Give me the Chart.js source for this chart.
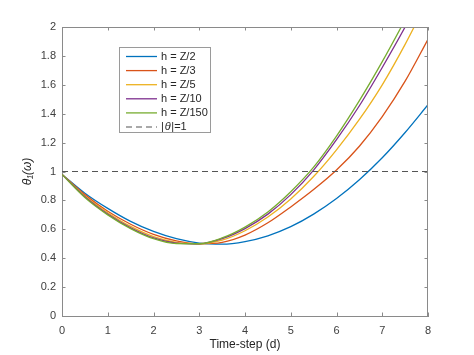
<!DOCTYPE html>
<html><head><meta charset="utf-8">
<script src="https://cdn.jsdelivr.net/npm/chart.js@4/dist/chart.umd.min.js"></script>
<style>html,body{margin:0;padding:0;background:#fff}#wrap{width:474px;height:355px;position:relative}</style>
</head><body><div id="wrap"><canvas id="c" width="474" height="355"></canvas></div>
<script>
// ---- data ----
const steps = [0,0.5,1,1.5,2,2.5,3,3.5,4,4.5,5,5.5,6,6.5,7,7.5,8];
const seriesLabels = ['h = Z/2','h = Z/3','h = Z/5','h = Z/10','h = Z/150'];
const thetaZ2   = [0.98,0.85,0.745,0.655,0.585,0.535,0.505,0.497,0.515,0.555,0.618,0.705,0.813,0.943,1.095,1.27,1.462];
const thetaZ3   = [0.98,0.84,0.725,0.635,0.565,0.52,0.50,0.51,0.56,0.645,0.755,0.875,1.01,1.175,1.38,1.625,1.915];
const thetaZ5   = [0.98,0.83,0.715,0.62,0.55,0.51,0.50,0.525,0.59,0.685,0.81,0.965,1.15,1.36,1.60,1.88,2.19];
const thetaZ10  = [0.98,0.825,0.705,0.61,0.54,0.505,0.50,0.535,0.605,0.705,0.84,1.01,1.22,1.455,1.72,2.0,2.3];
const thetaZ150 = [0.98,0.82,0.70,0.605,0.535,0.501,0.50,0.54,0.615,0.72,0.86,1.03,1.245,1.49,1.76,2.05,2.35];
const refX = [0,8];
const refY = [1,1];
const refLabel = '|θ|=1';
const xTicks = [0,1,2,3,4,5,6,7,8];
const yTicks = [0,0.2,0.4,0.6,0.8,1,1.2,1.4,1.6,1.8,2];
const yTickLabels = ['0','0.2','0.4','0.6','0.8','1','1.2','1.4','1.6','1.8','2'];
const xTitle = 'Time-step (d)';
const yTitle = 'θ₁(ω)';

// ---- styles ----
const colors = ['#0072BD','#D95319','#EDB120','#7E2F8E','#77AC30'];
const FONT = "'Liberation Sans', Arial, Helvetica, sans-serif";
const AXIS = '#8a8a8a';
const TEXT = '#404040';

const series = [thetaZ2, thetaZ3, thetaZ5, thetaZ10, thetaZ150];
const datasets = series.map((vals, i) => ({
  label: seriesLabels[i],
  data: steps.map((x, k) => ({x, y: vals[k]})),
  borderColor: colors[i],
  backgroundColor: colors[i],
  borderWidth: 1.3,
  pointRadius: 0,
  showLine: true,
  fill: false,
  cubicInterpolationMode: 'monotone',
  order: 10 - i
}));
datasets.push({
  label: refLabel,
  data: refX.map((x, k) => ({x, y: refY[k]})),
  borderColor: '#555555',
  borderWidth: 1.1,
  borderDash: [6, 4],
  pointRadius: 0,
  showLine: true,
  fill: false,
  order: 0
});

const framePlugin = {
  id: 'frame',
  afterDraw(chart) {
    const {ctx, chartArea: a, scales} = chart;
    ctx.save();
    ctx.strokeStyle = AXIS;
    ctx.lineWidth = 1;
    ctx.beginPath();
    ctx.moveTo(a.left, a.top + 0.5); ctx.lineTo(a.right, a.top + 0.5);
    ctx.moveTo(a.right - 0.5, a.top); ctx.lineTo(a.right - 0.5, a.bottom);
    const tl = 3.5;
    xTicks.forEach(v => {
      const px = Math.round(scales.x.getPixelForValue(v)) + 0.5;
      ctx.moveTo(px, a.bottom); ctx.lineTo(px, a.bottom - tl);
      ctx.moveTo(px, a.top); ctx.lineTo(px, a.top + tl);
    });
    yTicks.forEach(v => {
      const py = Math.round(scales.y.getPixelForValue(v)) + 0.5;
      ctx.moveTo(a.left, py); ctx.lineTo(a.left + tl, py);
      ctx.moveTo(a.right, py); ctx.lineTo(a.right - tl, py);
    });
    ctx.stroke();

    // legend box
    const bx = 119, by = 47, bw = 91, bh = 85;
    ctx.fillStyle = '#ffffff';
    ctx.fillRect(bx, by, bw, bh);
    ctx.strokeStyle = '#9a9a9a';
    ctx.strokeRect(bx + 0.5, by + 0.5, bw, bh);
    const rowH = 14.1;
    chart.data.datasets.forEach((ds, i) => {
      const y = by + 9.5 + i * rowH;
      ctx.strokeStyle = ds.borderColor;
      ctx.lineWidth = ds.borderWidth;
      ctx.setLineDash(ds.borderDash || []);
      ctx.beginPath();
      ctx.moveTo(126, y); ctx.lineTo(157, y);
      ctx.stroke();
      ctx.setLineDash([]);
      ctx.fillStyle = '#262626';
      ctx.textBaseline = 'middle';
      ctx.textAlign = 'left';
      if (ds.label === refLabel) {
        let x = 161;
        ctx.font = '11px ' + FONT;
        ctx.fillText('|', x, y); x += ctx.measureText('|').width + 1;
        ctx.font = 'italic 11px ' + FONT;
        ctx.fillText('θ', x, y); x += ctx.measureText('θ').width + 0.5;
        ctx.font = '11px ' + FONT;
        ctx.fillText('|=1', x, y);
      } else {
        ctx.font = '11px ' + FONT;
        ctx.fillText(ds.label, 161, y);
      }
    });
    ctx.restore();
  }
};

new Chart(document.getElementById('c'), {
  type: 'scatter',
  data: { datasets },
  options: {
    responsive: false,
    animation: false,
    devicePixelRatio: 1,
    layout: { padding: { top: 27, right: 46, left: 0, bottom: 0 } },
    plugins: { legend: { display: false }, tooltip: { enabled: false } },
    scales: {
      x: {
        type: 'linear', position: 'bottom', min: 0, max: 8,
        afterBuildTicks: s => { s.ticks = xTicks.map(v => ({value: v})); },
        afterFit: s => { s.height = 39; },
        grid: { display: false, drawTicks: false },
        border: { display: true, color: AXIS, width: 1 },
        ticks: { padding: 8, color: TEXT, font: { family: FONT, size: 11 }, maxRotation: 0,
                 callback: v => String(v) },
        title: { display: true, text: xTitle, color: '#262626',
                 font: { family: FONT, size: 12 }, padding: { top: 0, bottom: 3 } }
      },
      y: {
        type: 'linear', min: 0, max: 2,
        afterBuildTicks: s => { s.ticks = yTicks.map(v => ({value: v})); },
        afterFit: s => { s.width = 62; },
        grid: { display: false, drawTicks: false },
        border: { display: true, color: AXIS, width: 1 },
        ticks: { padding: 6, color: TEXT, font: { family: FONT, size: 11 },
                 callback: v => yTickLabels[yTicks.findIndex(t => Math.abs(t - v) < 1e-9)] },
        title: { display: true, text: yTitle, color: '#262626',
                 font: { family: FONT, size: 12, style: 'italic' }, padding: { top: 20, bottom: 0 } }
      }
    }
  },
  plugins: [framePlugin]
});
</script>
</body></html>
